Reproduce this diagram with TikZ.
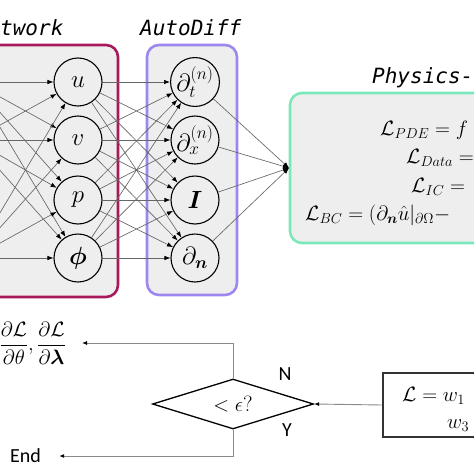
\documentclass[tikz,border=0pt]{standalone}
\usepackage{amsmath}
\usepackage{fontspec}
\newfontfamily\codefont{DejaVu Sans Mono}
\newfontfamily\calfont{Carlito}
\usetikzlibrary{arrows.meta,shapes.geometric}
\definecolor{netcol}{HTML}{A8195B}
\definecolor{adcol}{HTML}{9E86F0}
\definecolor{phycol}{HTML}{7BE8BB}
\definecolor{boxfill}{HTML}{EEEEEE}
\definecolor{wire}{HTML}{666666}
\definecolor{flow}{HTML}{8A8A8A}
\begin{document}
\begin{tikzpicture}[x=1pt,y=-1pt,
  neuron/.style={circle,draw=black,line width=1.1pt,fill=boxfill,minimum size=48pt,inner sep=0pt,font=\fontsize{25}{28}\selectfont},
  wirearrow/.style={draw=wire,line width=0.65pt,-{Latex[length=6pt,width=4.5pt,color=black]}},
  groupbox/.style={line width=2.6pt,rounded corners=12pt,fill=boxfill},
  title/.style={font=\codefont\itshape\fontsize{21}{24}\selectfont,inner sep=0pt},
  eq/.style={font=\fontsize{21}{24}\selectfont,inner sep=0pt,anchor=base west},
  flowline/.style={draw=flow,line width=0.9pt},
  flowarrow/.style={flowline,-{Latex[length=5pt,width=4pt,color=black]}},
  lbl/.style={font=\calfont\fontsize{20}{24}\selectfont,inner sep=0pt}
]
\useasboundingbox (0,0) rectangle (474,474);
\clip (0,0) rectangle (474,474);
\fill[white] (0,0) rectangle (474,474);

% group boxes
\draw[groupbox,draw=netcol] (-40,45) rectangle (118,297);
\draw[groupbox,draw=adcol] (147,45) rectangle (237,295);
\draw[groupbox,draw=phycol] (290,93) rectangle (530,243);

% titles
\node[title,anchor=base west] (nettitle) at (0,35) {twork};
\node[title,anchor=base west] (adtitle) at (140,35) {AutoDiff};
\node[title,anchor=base west] (phytitle) at (372,83) {Physics-};

% neurons
\foreach \i/\y in {1/82,2/140,4/258} \node[neuron] (h\i) at (-27,\y) {};
\node[neuron] (o1) at (78,82) {$u$};
\node[neuron] (o2) at (78,140) {$v$};
\node[neuron] (o3) at (78,200) {$p$};
\node[neuron] (o4) at (78,258) {$\boldsymbol{\phi}$};
\node[neuron] (a1) at (195,82) {$\partial_t^{(n)}$};
\node[neuron] (a2) at (195,140) {$\partial_x^{(n)}$};
\node[neuron] (a3) at (195,200) {$\boldsymbol{I}$};
\node[neuron] (a4) at (195,258) {$\partial_{\boldsymbol{n}}$};
\coordinate (conv) at (289,168);

% wires
\foreach \s in {h1,h2,h4} \foreach \t in {o1,o2,o3,o4} \draw[wirearrow] (\s) -- (\t);
\foreach \s in {o1,o2,o3,o4} \foreach \t in {a1,a2,a3,a4} \draw[wirearrow] (\s) -- (\t);
\foreach \s in {a1,a2,a3,a4} \draw[wirearrow] (\s) -- (conv);

% physics equations
\node[eq] (lpde) at (380,135) {$\mathcal{L}_{PDE} = f$};
\node[eq] (ldata) at (406,163) {$\mathcal{L}_{Data} =$};
\node[eq] (lic) at (411,192) {$\mathcal{L}_{IC} =$};
\node[eq] (lbc) at (305,220) {$\mathcal{L}_{BC} = (\partial_{\boldsymbol{n}}\hat{u}|_{\partial\Omega}-$};

% flow chart
\node[font=\fontsize{20}{24}\selectfont,inner sep=0pt,anchor=east] (grad) at (66,343)
  {$\displaystyle\frac{\partial\mathcal{L}}{\partial\theta},\frac{\partial\mathcal{L}}{\partial\boldsymbol{\lambda}}$};
\node[diamond,draw=black,line width=1.3pt,aspect=3.2,minimum width=161pt,minimum height=50pt,inner sep=0pt,font=\fontsize{22}{26}\selectfont] (dec) at (233,404) {$<\epsilon$?};
\node[draw=black!80,line width=1.3pt,minimum width=137pt,minimum height=64pt,inner sep=0pt] (lossbox) at (451.5,405) {};
\node[font=\fontsize{22}{26}\selectfont,inner sep=0pt,anchor=base west] (losst1) at (402,401) {$\mathcal{L} = w_1$};
\node[font=\fontsize{22}{26}\selectfont,inner sep=0pt,anchor=base west] (losst2) at (447,428) {$w_3$};
\node[lbl,anchor=west] (endn) at (10,456) {End};
\node[lbl] (nlab) at (285,374) {N};
\node[lbl] (ylab) at (287,430) {Y};

\draw[flowarrow] (lossbox.west) -- (dec.east);
\draw[flowarrow] (dec.north) |- ([xshift=16pt]grad.east);
\draw[flowarrow] (dec.south) |- ([xshift=18pt]endn.east);
\end{tikzpicture}
\end{document}
